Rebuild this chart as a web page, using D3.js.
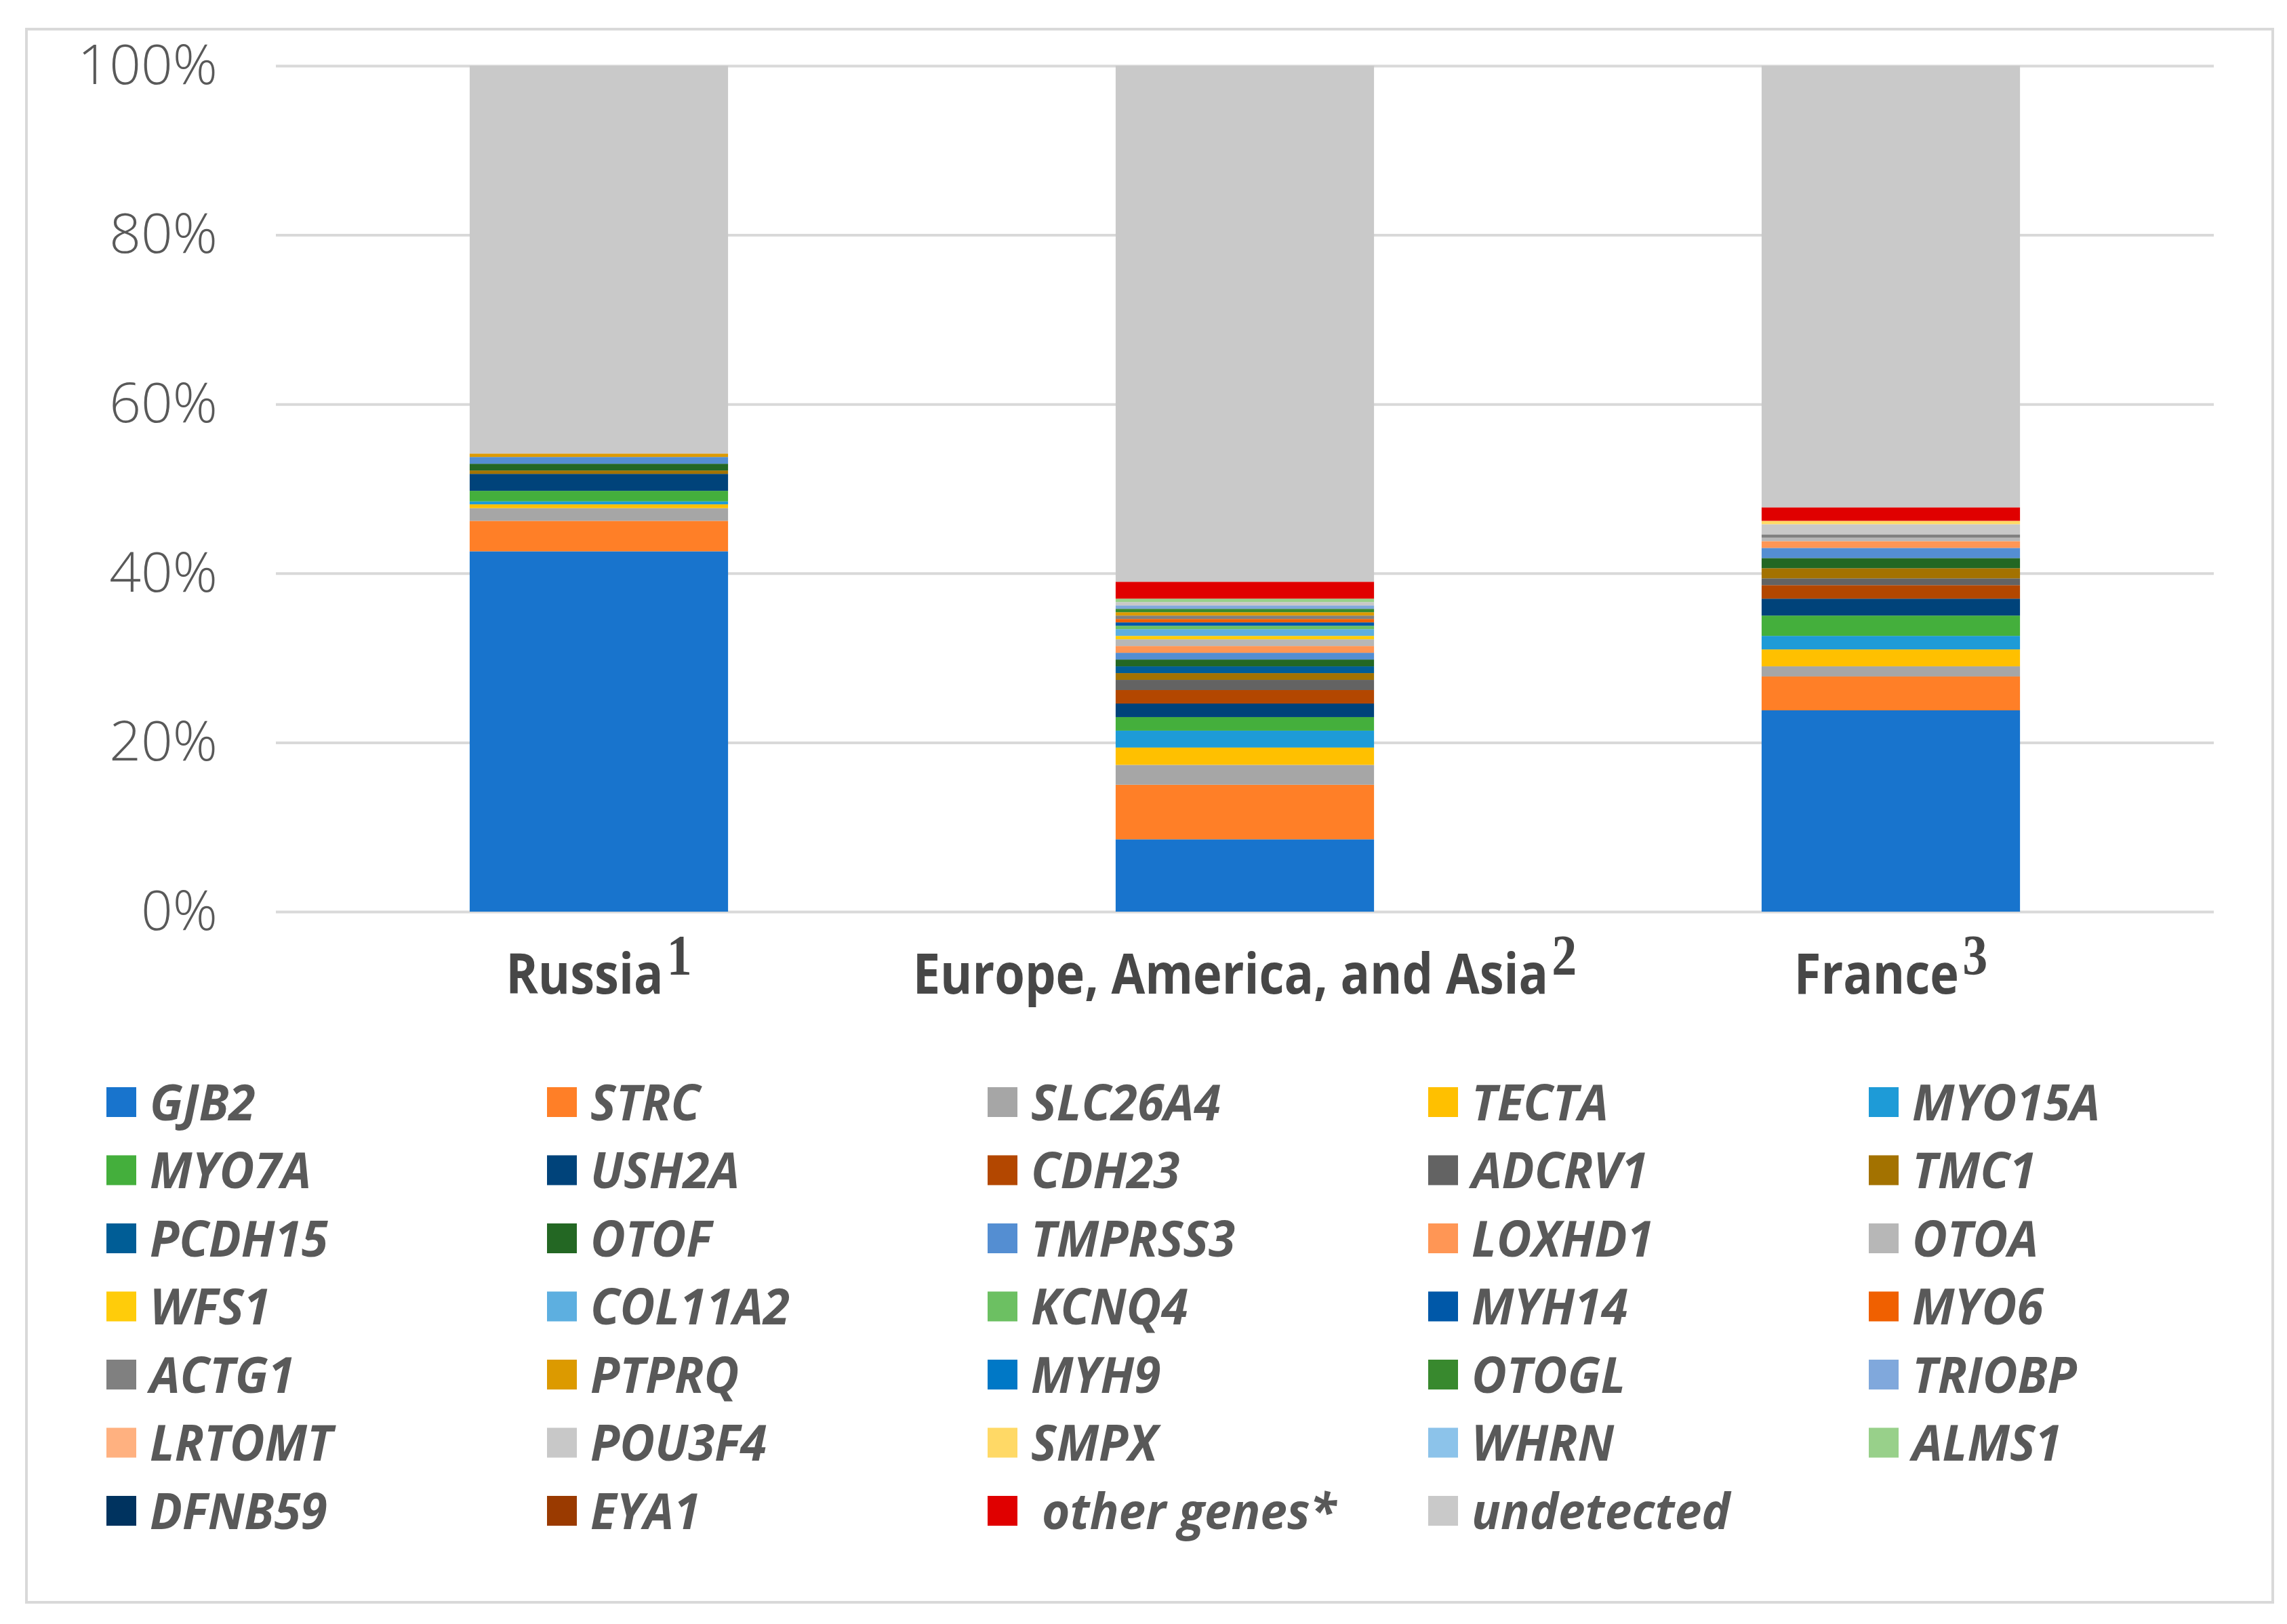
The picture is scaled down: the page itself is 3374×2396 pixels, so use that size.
<!DOCTYPE html>
<html>
<head>
<meta charset="utf-8">
<script src="https://cdn.jsdelivr.net/npm/d3@7/dist/d3.min.js"></script>
<style>
  body { margin: 0; background: #fff; }
  svg { display: block; }
</style>
</head>
<body>
<div id="chart"></div>
<script>
// 地區（X 軸分類）與上標註記
const regions = ["Russia", "Europe, America, and Asia", "France"];
const regionNotes = ["1", "2", "3"];

// 基因名稱（堆疊順序 = 圖例順序）
const genes = [
  "GJB2", "STRC", "SLC26A4", "TECTA", "MYO15A",
  "MYO7A", "USH2A", "CDH23", "ADCRV1", "TMC1",
  "PCDH15", "OTOF", "TMPRSS3", "LOXHD1", "OTOA",
  "WFS1", "COL11A2", "KCNQ4", "MYH14", "MYO6",
  "ACTG1", "PTPRQ", "MYH9", "OTOGL", "TRIOBP",
  "LRTOMT", "POU3F4", "SMPX", "WHRN", "ALMS1",
  "DFNB59", "EYA1", "other genes*", "undetected"
];

const geneColors = [
  "#1874cd", "#ff7f27", "#a6a6a6", "#ffc000", "#1e9bd7",
  "#44af3c", "#00437a", "#b34700", "#636363", "#a37200",
  "#005d96", "#236723", "#548ed2", "#ff9655", "#b7b7b7",
  "#ffcc0a", "#5dafe0", "#6cc062", "#0058a8", "#f06000",
  "#808080", "#dc9a00", "#0078c6", "#38892e", "#80a8dc",
  "#ffb180", "#c8c8c8", "#ffd966", "#8cc3ea", "#98d08a",
  "#00335f", "#9a3a00", "#e00000", "#c9c9c9"
];

// 各地區各基因所佔百分比（%）
const russiaValues = [
  42.6, 3.6, 1.5, 0.45, 0.35,
  1.25, 2.0, 0, 0, 0.4,
  0, 0.8, 0.8, 0, 0,
  0, 0, 0, 0, 0,
  0, 0.4, 0, 0, 0,
  0, 0, 0, 0, 0,
  0, 0, 0, 45.85
];
const europeValues = [
  8.55, 6.45, 2.35, 2.05, 2.0,
  1.6, 1.6, 1.6, 1.2, 0.8,
  0.8, 0.8, 0.8, 0.8, 0.8,
  0.4, 0.8, 0.4, 0.4, 0.4,
  0.4, 0.4, 0, 0.4, 0.4,
  0, 0.4, 0, 0, 0.4,
  0, 0, 2.0, 61.0
];
const franceValues = [
  23.8, 4.0, 1.2, 2.0, 1.6,
  2.4, 2.0, 1.6, 0.8, 1.2,
  0, 1.2, 1.2, 0.8, 0.4,
  0, 0, 0, 0, 0,
  0.4, 0, 0, 0, 0,
  0, 1.2, 0.4, 0, 0,
  0, 0, 1.6, 52.2
];

const yTicks = [0, 20, 40, 60, 80, 100];

const width = 3374, height = 2396;
const plot = { left: 407, right: 3266, top: 97, bottom: 1345 };

const svg = d3.select("#chart").append("svg")
    .attr("width", width)
    .attr("height", height);

// 外框
svg.append("rect")
    .attr("x", 39).attr("y", 43)
    .attr("width", 3353 - 39).attr("height", 2364 - 43)
    .attr("fill", "#fff")
    .attr("stroke", "#d9d9d9")
    .attr("stroke-width", 4);

const x = d3.scaleBand()
    .domain(regions)
    .range([plot.left, plot.right])
    .paddingInner(0.6)
    .paddingOuter(0.3);

const y = d3.scaleLinear()
    .domain([0, 100])
    .range([plot.bottom, plot.top]);

// Y 軸與格線
const yAxis = svg.append("g")
    .attr("transform", `translate(${plot.left},0)`)
    .call(d3.axisLeft(y)
        .tickValues(yTicks)
        .tickFormat(d => d + "%")
        .tickSize(-(plot.right - plot.left))
        .tickPadding(86));
yAxis.select(".domain").remove();
yAxis.selectAll(".tick line")
    .attr("stroke", "#d9d9d9")
    .attr("stroke-width", 4);
yAxis.selectAll(".tick text")
    .attr("fill", "#595959")
    .attr("font-family", "'Open Sans', 'DejaVu Sans', sans-serif")
    .attr("font-weight", 300)
    .attr("font-size", 82);

// 堆疊資料
const rows = regions.map((r, i) => {
  const vals = [russiaValues, europeValues, franceValues][i];
  const row = { region: r };
  genes.forEach((g, j) => { row[g] = vals[j]; });
  return row;
});

const series = d3.stack().keys(genes)(rows);

svg.append("g")
  .selectAll("g")
  .data(series)
  .join("g")
    .attr("fill", (d, i) => geneColors[i])
  .selectAll("rect")
  .data(d => d)
  .join("rect")
    .attr("x", d => x(d.data.region))
    .attr("width", x.bandwidth())
    .attr("y", d => y(d[1]))
    .attr("height", d => Math.max(0, y(d[0]) - y(d[1])));

// X 軸標籤（含上標），字形較窄，所以橫向壓縮
const xLabels = svg.append("g");
regions.forEach((r, i) => {
  const t = xLabels.append("g")
      .attr("transform", `translate(${x(r) + x.bandwidth() / 2},1466) scale(0.88,1)`)
    .append("text")
      .attr("text-anchor", "middle")
      .attr("fill", "#474747");
  t.append("tspan")
      .attr("font-family", "'Open Sans', 'DejaVu Sans', sans-serif")
      .attr("font-weight", 700)
      .attr("font-size", 82)
      .text(r);
  t.append("tspan")
      .attr("dx", 6)
      .attr("dy", -28)
      .attr("font-family", "'Liberation Serif', 'DejaVu Serif', serif")
      .attr("font-weight", 700)
      .attr("font-size", 84)
      .text(regionNotes[i]);
});

// 圖例
const legendCols = 5;
const legend = svg.append("g")
  .selectAll("g")
  .data(genes)
  .join("g")
    .attr("transform", (d, i) =>
      `translate(${157 + (i % legendCols) * 650},${1626 + Math.floor(i / legendCols) * 100.5})`);

legend.append("rect")
    .attr("x", 0).attr("y", -22)
    .attr("width", 44).attr("height", 44)
    .attr("fill", (d, i) => geneColors[i]);

legend.append("g")
    .attr("transform", d => `translate(${d === "other genes*" ? 80 : 64},0) scale(0.96,1)`)
  .append("text")
    .attr("dy", "0.36em")
    .attr("fill", "#595959")
    .attr("font-family", "'Open Sans', 'DejaVu Sans', sans-serif")
    .attr("font-weight", 700)
    .attr("font-style", "italic")
    .attr("font-size", 74)
    .text(d => d);
</script>
</body>
</html>
